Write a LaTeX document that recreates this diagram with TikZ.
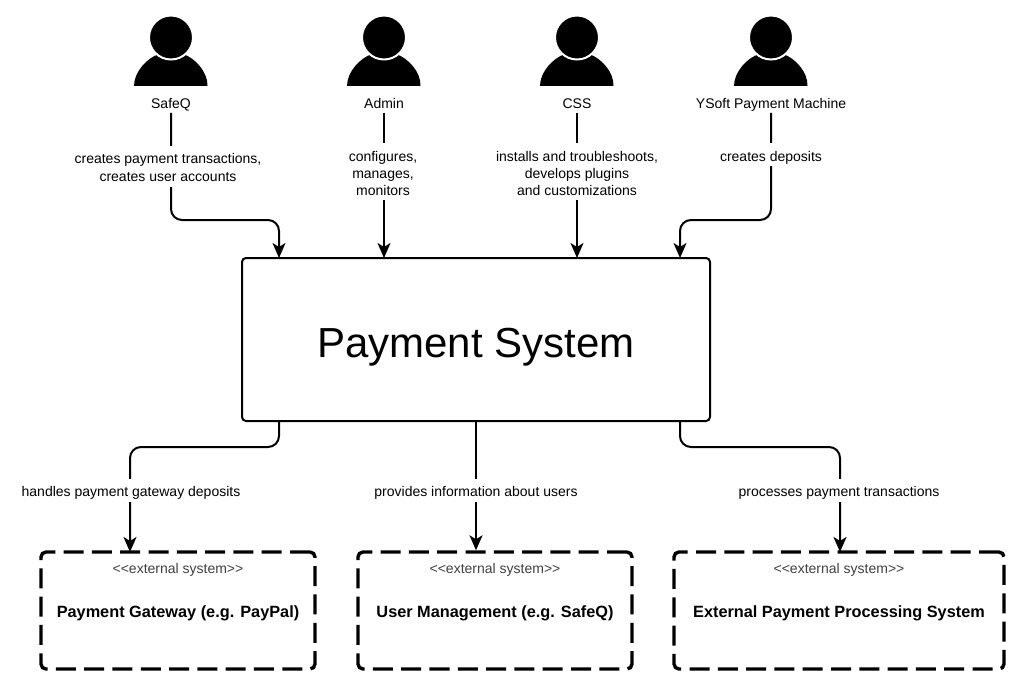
\documentclass[tikz,border=0pt]{standalone}
\usepackage{fontspec}
\setmainfont{Liberation Sans}
\usetikzlibrary{arrows.meta}
\newcommand{\tstr}{\rule{0pt}{18pt}}
\newcommand{\bstr}{\rule[-5pt]{0pt}{5pt}}
\newcommand{\bstrb}{\rule[-6pt]{0pt}{6pt}}
\newcommand{\tstrb}{\rule{0pt}{17pt}}
\tikzset{
  x=1pt,y=-1pt,
  conn/.style={line width=2pt,rounded corners=11pt,-{Stealth[length=15pt,width=13pt,inset=4pt]}},
  lbl/.style={font=\fontsize{14}{18}\selectfont,align=center,inner sep=0pt,text=black},
  elbl/.style={lbl,fill=white},
  tlbl/.style={elbl,font=\fontsize{14}{17}\selectfont},
  sysbox/.style={draw,line width=2pt,rounded corners=4pt,minimum width=468pt,minimum height=163pt,inner sep=0pt},
  systitle/.style={font=\fontsize{42}{50}\selectfont,inner sep=0pt,anchor=base},
  extbox/.style={draw,line width=3.4pt,rounded corners=5pt,dash pattern=on 20pt off 8.3pt,minimum height=117pt,inner sep=0pt},
  exttitle/.style={font=\fontsize{16.3}{18}\selectfont\bfseries,inner sep=0pt,anchor=base},
  stereo/.style={font=\fontsize{14}{14}\selectfont,text=black!75,inner sep=0pt,anchor=base},
}
\newcommand{\actorfig}[1]{%
  \begin{scope}[shift={(#1,0)}]
    \fill[black] (-37,86) .. controls (-37,72) and (-24,58) .. (-12,54) -- (12,54) .. controls (24,58) and (37,72) .. (36.5,86) -- cycle;
    \fill[black,draw=white,line width=2pt] (0,37.5) circle (22);
  \end{scope}}
\begin{document}
\begin{tikzpicture}
\useasboundingbox (0,0) rectangle (1024,687);
\actorfig{171}\actorfig{384}\actorfig{577}\actorfig{771}
\newcommand{\astr}{\rule{0pt}{9pt}\rule[-4pt]{0pt}{4pt}}
\node[lbl] (a1) at (171,105.5) {\astr SafeQ};
\node[lbl] (a2) at (384,105.5) {\astr Admin};
\node[lbl] (a3) at (577,105.5) {\astr CSS};
\node[lbl] (a4) at (771,105.5) {\astr YSoft Payment Machine};
\node[sysbox] (main) at (476,339.5) {};
\node[systitle] (mt) at (476,357) {Payment System};
\node[extbox,minimum width=274pt] (e1) at (178,610.5) {};
\node[extbox,minimum width=274pt] (e2) at (495,610.5) {};
\node[extbox,minimum width=330pt] (e3) at (839,610.5) {};
\node[exttitle] (n1) at (178,617) {Payment Gateway (e.g. PayPal)};
\node[exttitle] (n2) at (495,617) {User Management (e.g. SafeQ)};
\node[exttitle] (n3) at (839,617) {External Payment Processing System};
\node[stereo] (s1) at (178,573) {<{}<external system>{}>};
\node[stereo] (s2) at (495,573) {<{}<external system>{}>};
\node[stereo] (s3) at (839,573) {<{}<external system>{}>};
\coordinate (t1) at (279,258); \coordinate (t4) at (680,258);
\coordinate (b1) at (279,421); \coordinate (b3) at (680,421);
\coordinate (i1) at (130,552); \coordinate (i3) at (840,552);
\draw[conn] (a1.south) -- (171,220) -- (279,220) -- (t1);
\draw[conn] (a2.south) -- (384,258);
\draw[conn] (a3.south) -- (577,258);
\draw[conn] (a4.south) -- (771,220) -- (680,220) -- (t4);
\draw[conn] (b1) -- (279,447) -- (130,447) -- (i1);
\draw[conn] (main.south) -- (e2.north -| main.south);
\draw[conn] (b3) -- (680,447) -- (840,447) -- (i3);
\node[elbl] (l1) at (168,166.5) {\tstr creates payment transactions,\\creates user accounts\bstr};
\node[tlbl] (l2) at (383,171.5) {\tstr configures,\\manages,\\monitors\bstr};
\node[tlbl] (l3) at (577,171.5) {\tstr installs and troubleshoots,\\develops plugins\\and customizations\bstr};
\node[elbl] (l4) at (771,154.5) {\tstr creates deposits\bstr};
\node[elbl] (l5) at (131,490.5) {\tstrb handles payment gateway deposits\bstrb};
\node[elbl] (l6) at (476,490.5) {\tstrb provides information about users\bstrb};
\node[elbl] (l7) at (839,490.5) {\tstrb processes payment transactions\bstrb};
\end{tikzpicture}
\end{document}
